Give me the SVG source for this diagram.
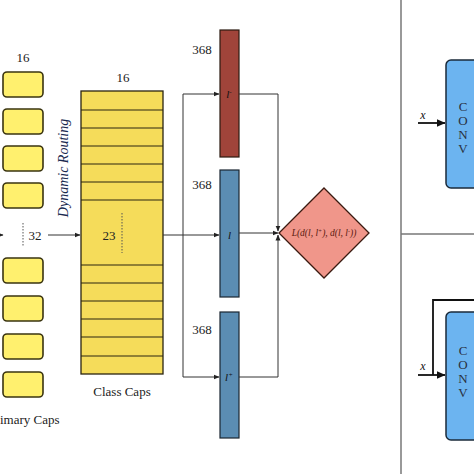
<svg xmlns="http://www.w3.org/2000/svg" width="474" height="474" viewBox="0 0 474 474">
<style>
.t{font-family:"Liberation Serif",serif;font-size:13px;fill:#222;}
.cl{font-family:"Liberation Serif",serif;font-size:13px;fill:#2a3040;}
.pc{fill:#fff06e;stroke:#3a3410;stroke-width:1.6;}
.ln{stroke:#333;stroke-width:1;fill:none;}
.cv{fill:#6cb4f0;stroke:#1a2a3a;stroke-width:1.5;}
.row{stroke:#2a2410;stroke-width:1;}
</style>
<defs>
<marker id="ah" markerWidth="6" markerHeight="6" refX="5.5" refY="3" orient="auto" markerUnits="userSpaceOnUse">
<path d="M0,0.5 L6,3 L0,5.5 z" fill="#222"/>
</marker>
<marker id="ahb" markerWidth="9" markerHeight="9" refX="8.5" refY="4.5" orient="auto" markerUnits="userSpaceOnUse">
<path d="M0,0.5 L9,4.5 L0,8.5 z" fill="#111"/>
</marker>
</defs>
<rect width="474" height="474" fill="#fff"/>

<g id="primary-caps">
<text class="t" x="23" y="62" text-anchor="middle">16</text>
<rect class="pc" x="3" y="72" width="40" height="25" rx="4"/>
<rect class="pc" x="3" y="109" width="40" height="25" rx="4"/>
<rect class="pc" x="3" y="146" width="40" height="25" rx="4"/>
<rect class="pc" x="3" y="183" width="40" height="25" rx="4"/>
<line x1="23" y1="223" x2="23" y2="247" stroke="#555" stroke-width="1" stroke-dasharray="1.5,1.5"/>
<text class="t" x="35" y="240" text-anchor="middle">32</text>
<rect class="pc" x="3" y="258" width="40" height="25" rx="4"/>
<rect class="pc" x="3" y="296" width="40" height="25" rx="4"/>
<rect class="pc" x="3" y="334" width="40" height="25" rx="4"/>
<rect class="pc" x="3" y="372" width="40" height="25" rx="4"/>
<text class="t" x="0" y="424">imary Caps</text>
</g>

<g id="dynamic-routing">
<text x="0" y="0" transform="translate(68,168) rotate(-90)" text-anchor="middle" style="font-family:'Liberation Serif',serif;font-size:14px;font-style:italic;fill:#1a2a50">Dynamic Routing</text>
</g>

<g id="class-caps">
<text class="t" x="123" y="82" text-anchor="middle">16</text>
<rect x="81" y="91" width="82" height="283" fill="#f5dc5a" stroke="#2a2410" stroke-width="1.3"/>
<line class="row" x1="81" y1="110" x2="163" y2="110"/>
<line class="row" x1="81" y1="128" x2="163" y2="128"/>
<line class="row" x1="81" y1="146" x2="163" y2="146"/>
<line class="row" x1="81" y1="164" x2="163" y2="164"/>
<line class="row" x1="81" y1="182" x2="163" y2="182"/>
<line class="row" x1="81" y1="200" x2="163" y2="200"/>
<line class="row" x1="81" y1="265" x2="163" y2="265"/>
<line class="row" x1="81" y1="283" x2="163" y2="283"/>
<line class="row" x1="81" y1="301" x2="163" y2="301"/>
<line class="row" x1="81" y1="319" x2="163" y2="319"/>
<line class="row" x1="81" y1="337" x2="163" y2="337"/>
<line class="row" x1="81" y1="356" x2="163" y2="356"/>
<text class="t" x="109" y="240" text-anchor="middle">23</text>
<line x1="122" y1="213" x2="122" y2="253" stroke="#555" stroke-width="1" stroke-dasharray="1.5,1.5"/>
<text class="t" x="122" y="396" text-anchor="middle">Class Caps</text>
</g>

<g id="vec-neg">
<text class="t" x="202" y="54" text-anchor="middle">368</text>
<rect x="220" y="30" width="19" height="127" fill="#a0443a" stroke="#2a1a10" stroke-width="1.2"/>
<text x="229" y="98" text-anchor="middle" style="font-family:'Liberation Serif',serif;font-size:11px;font-style:italic;fill:#111">l<tspan font-size="7" dy="-4">-</tspan></text>
</g>
<g id="vec-anchor">
<text class="t" x="202" y="189" text-anchor="middle">368</text>
<rect x="220" y="170" width="19" height="127" fill="#5b8db3" stroke="#1a2530" stroke-width="1.2"/>
<text x="229.5" y="239" text-anchor="middle" style="font-family:'Liberation Serif',serif;font-size:11px;font-style:italic;fill:#111">l</text>
</g>
<g id="vec-pos">
<text class="t" x="202" y="334" text-anchor="middle">368</text>
<rect x="220" y="312" width="19" height="126" fill="#5b8db3" stroke="#1a2530" stroke-width="1.2"/>
<text x="229" y="381" text-anchor="middle" style="font-family:'Liberation Serif',serif;font-size:11px;font-style:italic;fill:#111">l<tspan font-size="7" dy="-4">+</tspan></text>
</g>

<g id="loss">
<polygon points="324,188 369,233 324,278 279,233" fill="#f0968a" stroke="#3a1a10" stroke-width="1.3"/>
<text x="324" y="236" text-anchor="middle" style="font-family:'Liberation Serif',serif;font-size:9.5px;font-style:italic;fill:#5a1a10">L(d(l, l<tspan font-size="6" dy="-3">+</tspan><tspan dy="3">), d(l, l</tspan><tspan font-size="6" dy="-3">-</tspan><tspan dy="3">))</tspan></text>
</g>

<g id="connectors">
<line class="ln" x1="0" y1="235" x2="3" y2="235" marker-end="url(#ah)"/>
<line class="ln" x1="48" y1="235" x2="80" y2="235" marker-end="url(#ah)"/>
<polyline class="ln" points="163,235 183,235"/>
<polyline class="ln" points="183,94 183,377"/>
<line class="ln" x1="183" y1="94" x2="219" y2="94" marker-end="url(#ah)"/>
<line class="ln" x1="183" y1="235" x2="219" y2="235" marker-end="url(#ah)"/>
<line class="ln" x1="183" y1="377" x2="219" y2="377" marker-end="url(#ah)"/>
<polyline class="ln" points="239,94 278,94 278,231" marker-end="url(#ah)"/>
<line class="ln" x1="239" y1="233" x2="278" y2="233" marker-end="url(#ah)"/>
<polyline class="ln" points="239,377 278,377 278,235" marker-end="url(#ah)"/>
</g>

<g id="divider">
<line x1="401" y1="0" x2="401" y2="474" stroke="#777" stroke-width="1.5"/>
<line x1="401" y1="234" x2="474" y2="234" stroke="#777" stroke-width="1.5"/>
</g>

<g id="conv-top">
<rect class="cv" x="446" y="60" width="40" height="128" rx="5"/>
<text class="cl" x="463" y="111" text-anchor="middle">C</text>
<text class="cl" x="463" y="125" text-anchor="middle">O</text>
<text class="cl" x="463" y="139" text-anchor="middle">N</text>
<text class="cl" x="463" y="153" text-anchor="middle">V</text>
<text x="423" y="119" text-anchor="middle" style="font-family:'Liberation Serif',serif;font-size:12px;font-style:italic;fill:#111">x</text>
<line x1="418" y1="123" x2="445" y2="123" stroke="#111" stroke-width="1.8" marker-end="url(#ahb)"/>
</g>

<g id="conv-bottom">
<rect class="cv" x="446" y="312" width="40" height="128" rx="5"/>
<text class="cl" x="463" y="355" text-anchor="middle">C</text>
<text class="cl" x="463" y="369" text-anchor="middle">O</text>
<text class="cl" x="463" y="383" text-anchor="middle">N</text>
<text class="cl" x="463" y="397" text-anchor="middle">V</text>
<text x="423" y="370" text-anchor="middle" style="font-family:'Liberation Serif',serif;font-size:12px;font-style:italic;fill:#111">x</text>
<line x1="418" y1="375" x2="445" y2="375" stroke="#111" stroke-width="1.8" marker-end="url(#ahb)"/>
<polyline points="433,375 433,300 474,300" fill="none" stroke="#111" stroke-width="1.8"/>
</g>
</svg>
